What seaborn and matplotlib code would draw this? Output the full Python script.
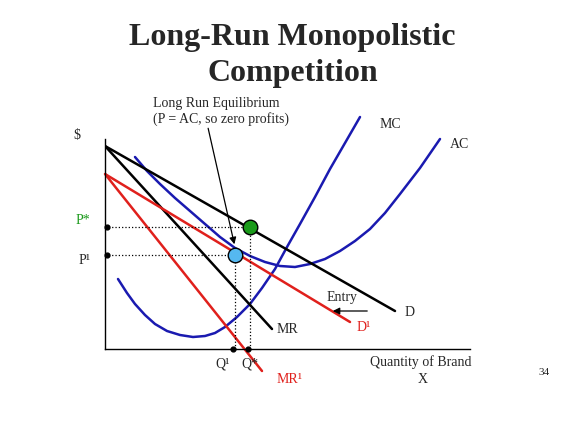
import numpy as np
import matplotlib
matplotlib.use("Agg")
import matplotlib.pyplot as plt
import seaborn as sns

sns.set_style("white")
plt.rcParams['font.family'] = ['Liberation Serif', 'DejaVu Serif']

# data (x = quantity, y = price, arbitrary units)
d_x = [0, 290]; d_y = [203, 38]
mr_x = [0, 167]; mr_y = [203, 20]
d1_x = [0, 245]; d1_y = [175, 27]
mr1_x = [0, 157]; mr1_y = [175, -22]
mc_x = [13, 22, 30, 40, 50, 62, 75, 88, 100, 110, 120, 132, 145, 157, 170, 182, 195, 210, 225, 240, 255]
mc_y = [70, 56, 45, 34, 25, 18, 14, 12, 13, 16, 22, 32, 45, 61, 80, 102, 125, 152, 180, 206, 232]
ac_x = [30, 42, 55, 70, 85, 100, 115, 130, 145, 160, 175, 190, 205, 220, 235, 250, 265, 280, 295, 315, 335]
ac_y = [192, 178, 165, 151, 138, 125, 112, 101, 93, 87, 83, 82, 85, 90, 98, 108, 120, 136, 155, 181, 210]
p_star, q_star = 122, 145
p_one, q_one = 94, 130

fig = plt.figure(figsize=(5.85, 4.39), dpi=100)
ax = fig.add_axes([105/585, 89/439, 365/585, 210/439])
ax.set_xlim(0, 365); ax.set_ylim(0, 210)
for s in ['top', 'right']:
    ax.spines[s].set_visible(False)
for s in ['left', 'bottom']:
    ax.spines[s].set_color('black'); ax.spines[s].set_linewidth(1)
ax.set_xticks([]); ax.set_yticks([])

navy = '#1a1ab0'; red = '#e0201c'
sns.lineplot(x=mc_x, y=mc_y, ax=ax, color=navy, lw=1.8, sort=False, clip_on=False)
sns.lineplot(x=ac_x, y=ac_y, ax=ax, color=navy, lw=1.8, sort=False, clip_on=False)
sns.lineplot(x=d_x, y=d_y, ax=ax, color='black', lw=1.8)
sns.lineplot(x=mr_x, y=mr_y, ax=ax, color='black', lw=1.8)
sns.lineplot(x=d1_x, y=d1_y, ax=ax, color=red, lw=1.8)
ax.plot(mr1_x, mr1_y, color=red, lw=1.8, clip_on=False)

ax.plot([0, q_star], [p_star, p_star], 'k:', lw=0.9)
ax.plot([q_star, q_star], [0, p_star], 'k:', lw=0.9)
ax.plot([0, q_one], [p_one, p_one], 'k:', lw=0.9)
ax.plot([q_one, q_one], [0, p_one], 'k:', lw=0.9)
ax.scatter([q_star], [p_star], s=110, color='#1a9a1a', edgecolor='black', zorder=5)
ax.scatter([q_one], [p_one], s=110, color='#55b8f0', edgecolor='black', zorder=5)
ax.scatter([2, 2, q_one - 2, q_star - 2], [p_star, p_one, 0, 0], s=12, color='black',
           zorder=5, clip_on=False)

ax.text(-22, p_star + 8, 'P*', color='#1a9a1a', fontsize=10, va='center', ha='center')
ax.text(-20, p_one - 4, 'P¹', fontsize=10, va='center', ha='center')
ax.text(-32, 215, '$', fontsize=10, va='center')
ax.text(q_one - 12, -14, 'Q¹', fontsize=10, va='center', ha='center')
ax.text(q_star, -14, 'Q*', fontsize=10, va='center', ha='center')
ax.text(275, 225, 'MC', fontsize=10, va='center')
ax.text(345, 206, 'AC', fontsize=10, va='center')
ax.text(300, 38, 'D', fontsize=10, va='center')
ax.text(172, 20, 'MR', fontsize=10, va='center')
ax.text(252, 22, 'D¹', color=red, fontsize=10, va='center')
ax.text(172, -30, 'MR¹', color=red, fontsize=10, va='center')
ax.text(265, -12, 'Quantity of Brand', fontsize=10, va='center')
ax.text(318, -30, 'X', fontsize=10, va='center', ha='center')
ax.text(222, 52, 'Entry', fontsize=10, va='center')
ax.annotate('', xy=(225, 38), xytext=(265, 38),
            arrowprops=dict(arrowstyle='-|>', color='black', lw=0.9))
ax.annotate('Long Run Equilibrium\n(P = AC, so zero profits)', xy=(q_one, p_one + 8),
            xytext=(48, 224), fontsize=10, va='bottom',
            arrowprops=dict(arrowstyle='-|>', color='black', lw=0.9, shrinkA=0,
                            relpos=(0.4, 0)))

fig.text(0.5, 0.873, 'Long-Run Monopolistic\nCompetition', ha='center', va='center',
         fontsize=23, fontweight='bold', linespacing=1.3)
fig.text(0.93, 0.145, '34', fontsize=8, ha='center')
fig.savefig('out.png', dpi=100)
